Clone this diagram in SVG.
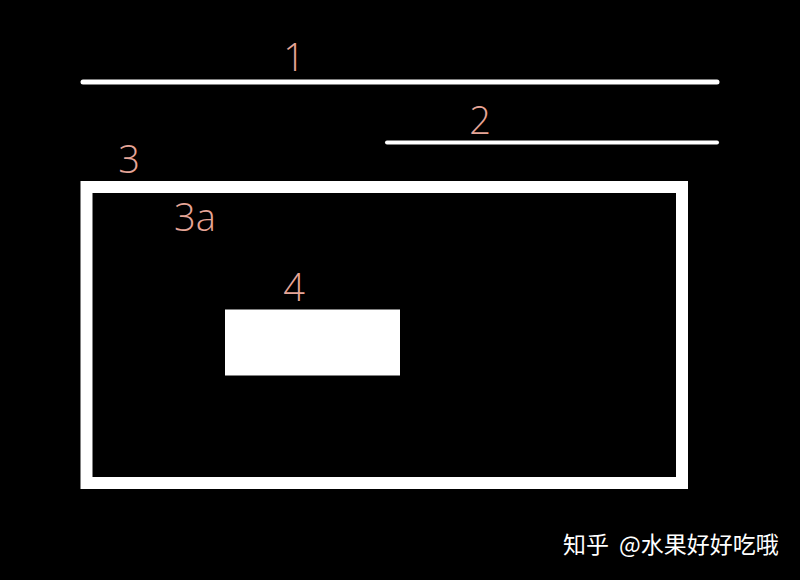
<svg xmlns="http://www.w3.org/2000/svg" width="800" height="580" viewBox="0 0 800 580">
<style>
.lbl{font-family:"Open Sans","Liberation Sans",sans-serif;font-weight:300;font-size:38px;fill:#e6a597;text-anchor:middle}
.ln{stroke:#fff;stroke-linecap:round;fill:none}
</style>
<rect width="800" height="580" fill="#000"/>
<g id="line1"><line class="ln" x1="83" y1="82" x2="717" y2="82" stroke-width="5"/><text class="lbl" x="294" y="71">1</text></g>
<g id="line2"><line class="ln" x1="387" y1="142.5" x2="717" y2="142.5" stroke-width="4"/><text class="lbl" x="480" y="134">2</text></g>
<g id="box3"><rect x="86.5" y="187" width="595.5" height="296" fill="none" stroke="#fff" stroke-width="12"/><text class="lbl" x="129" y="173">3</text><text class="lbl" x="195" y="231">3a</text></g>
<g id="box4"><rect x="225" y="309.5" width="175" height="66" fill="#fff"/><text class="lbl" x="294" y="301">4</text></g>
<g id="connectors"></g>
<text y="553" font-family="'Noto Sans CJK SC',sans-serif" font-size="23" fill="#fff"><tspan x="563">知乎</tspan><tspan x="619">@水果好好吃哦</tspan></text>
</svg>
